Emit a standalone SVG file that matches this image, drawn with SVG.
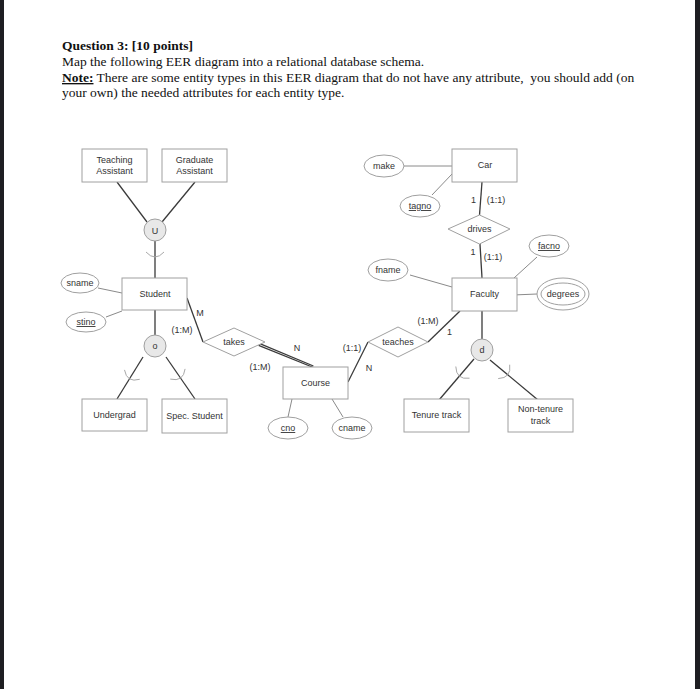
<svg xmlns="http://www.w3.org/2000/svg" width="700" height="689" viewBox="0 0 700 689">
<style>
.hd{font-family:"Liberation Serif","Times New Roman",serif;font-size:13.5px;fill:#111}
.t{font-family:"Liberation Sans",Arial,sans-serif;font-size:9px;fill:#333;text-anchor:middle}
.u{text-decoration:underline}
.box{fill:#fff;stroke:#a0a0a0;stroke-width:1}
.ell{fill:#fff;stroke:#a0a0a0;stroke-width:1}
.circ{fill:#e8e8e8;stroke:#a0a0a0;stroke-width:1}
.rel{stroke:#3a3a3a;stroke-width:1.3;fill:none}
.att{stroke:#8a8a8a;stroke-width:1;fill:none}
.arc{stroke:#a8a8a8;stroke-width:1;fill:none}
</style>
<rect x="0" y="0" width="700" height="689" fill="#fff"/>
<rect x="0" y="0" width="4" height="689" fill="#1e1e22"/>
<rect x="695" y="0" width="5" height="689" fill="#1e1e22"/>

<g id="header">
<text class="hd" x="62" y="50" font-weight="bold">Question 3: [10 points]</text>
<text class="hd" x="62" y="66">Map the following EER diagram into a relational database schema.</text>
<text class="hd" x="62" y="82"><tspan font-weight="bold" text-decoration="underline">Note:</tspan> There are some entity types in this EER diagram that do not have any attribute,&#160; you should add (on</text>
<text class="hd" x="62" y="97">your own) the needed attributes for each entity type.</text>
</g>

<g id="connectors">
<line class="rel" x1="117" y1="182" x2="147" y2="222"/>
<line class="rel" x1="195" y1="182" x2="162" y2="222"/>
<line class="rel" x1="155" y1="241" x2="155" y2="278"/>
<path class="arc" d="M146,252 Q155,262 164,252"/>
<line class="att" x1="98" y1="288" x2="122" y2="293"/>
<line class="att" x1="106" y1="317" x2="122" y2="311"/>
<line class="rel" x1="155" y1="310" x2="155" y2="335"/>
<line class="rel" x1="143" y1="357" x2="117" y2="399"/>
<line class="rel" x1="166" y1="357" x2="195" y2="399"/>
<path class="arc" d="M139.7,379.3 Q126.8,383.1 124.5,369.9"/>
<path class="arc" d="M185.1,368.9 Q183.4,382.2 170.3,379.1"/>
<line class="rel" x1="187" y1="298" x2="203" y2="342"/>
<line class="rel" x1="257.4" y1="342.6" x2="313.4" y2="366"/>
<line class="rel" x1="258.6" y1="345.4" x2="314.6" y2="368"/>
<line class="rel" x1="348" y1="382" x2="368" y2="342"/>
<line class="rel" x1="428" y1="342" x2="460" y2="311"/>
<line class="att" x1="292" y1="399" x2="288" y2="417"/>
<line class="att" x1="332" y1="399" x2="343" y2="417"/>
<line class="att" x1="404" y1="166" x2="452" y2="166"/>
<line class="att" x1="432" y1="195" x2="452" y2="174"/>
<line class="rel" x1="482" y1="182" x2="479.5" y2="215"/>
<line class="rel" x1="480" y1="244" x2="482" y2="278"/>
<line class="att" x1="537" y1="257" x2="514" y2="278"/>
<line class="att" x1="410" y1="275" x2="452" y2="287"/>
<line class="att" x1="513" y1="295" x2="537" y2="294"/>
<line class="rel" x1="482" y1="311" x2="482" y2="339"/>
<line class="rel" x1="474" y1="359" x2="439" y2="400"/>
<line class="rel" x1="490" y1="360" x2="538" y2="400"/>
<path class="arc" d="M469.5,378.2 Q456.1,380 455.8,366.5"/>
<path class="arc" d="M509.7,364.7 Q511.6,378 498.2,378.6"/>
</g>

<g id="teaching-assistant"><rect class="box" x="82" y="149" width="65" height="33"/><text class="t" x="114.5" y="163">Teaching</text><text class="t" x="114.5" y="174">Assistant</text></g>
<g id="graduate-assistant"><rect class="box" x="162" y="149" width="65" height="33"/><text class="t" x="194.5" y="163">Graduate</text><text class="t" x="194.5" y="174">Assistant</text></g>
<g id="union"><circle class="circ" cx="155" cy="230" r="11"/><text class="t" x="155" y="233.5">U</text></g>
<g id="student"><rect class="box" x="122" y="278" width="65" height="32"/><text class="t" x="155" y="297">Student</text></g>
<g id="sname"><ellipse class="ell" cx="80" cy="283" rx="19" ry="10"/><text class="t" x="80" y="286">sname</text></g>
<g id="stino"><ellipse class="ell" cx="86" cy="322" rx="20" ry="10"/><text class="t u" x="86" y="325">stino</text></g>
<g id="overlap"><circle class="circ" cx="155" cy="346" r="11"/><text class="t" x="155" y="349">o</text></g>
<g id="undergrad"><rect class="box" x="82" y="399" width="65" height="32"/><text class="t" x="114.5" y="418">Undergrad</text></g>
<g id="spec-student"><rect class="box" x="162" y="399" width="65" height="34"/><text class="t" x="194.5" y="419">Spec. Student</text></g>
<g id="takes"><polygon class="box" points="203,342 234,328 265,342 234,356"/><text class="t" x="234" y="345">takes</text></g>
<g id="course"><rect class="box" x="283" y="367" width="65" height="32"/><text class="t" x="315.5" y="386">Course</text></g>
<g id="cno"><ellipse class="ell" cx="288" cy="428" rx="20" ry="11"/><text class="t u" x="288" y="431">cno</text></g>
<g id="cname"><ellipse class="ell" cx="352" cy="428" rx="20" ry="11"/><text class="t" x="352" y="431">cname</text></g>
<g id="teaches"><polygon class="box" points="368,342 398,327 428,342 398,357"/><text class="t" x="398" y="345">teaches</text></g>
<g id="car"><rect class="box" x="452" y="149" width="65" height="33"/><text class="t" x="485" y="168">Car</text></g>
<g id="make"><ellipse class="ell" cx="384" cy="166" rx="20" ry="11"/><text class="t" x="384" y="169">make</text></g>
<g id="tagno"><ellipse class="ell" cx="420" cy="206" rx="20" ry="11"/><text class="t u" x="420" y="209">tagno</text></g>
<g id="drives"><polygon class="box" points="448,229 479.5,215 510,229 479.5,244"/><text class="t" x="479.5" y="232">drives</text></g>
<g id="facno"><ellipse class="ell" cx="549" cy="246" rx="20" ry="11"/><text class="t u" x="549" y="249">facno</text></g>
<g id="faculty"><rect class="box" x="452" y="278" width="65" height="33"/><text class="t" x="484.5" y="297">Faculty</text></g>
<g id="fname"><ellipse class="ell" cx="388" cy="270" rx="20" ry="11"/><text class="t" x="388" y="273">fname</text></g>
<g id="degrees"><ellipse class="ell" cx="563" cy="294" rx="26" ry="16"/><ellipse class="ell" cx="563" cy="294" rx="22" ry="11"/><text class="t" x="563" y="297">degrees</text></g>
<g id="disjoint"><circle class="circ" cx="482" cy="350" r="11"/><text class="t" x="482" y="353">d</text></g>
<g id="tenure-track"><rect class="box" x="404" y="399" width="65" height="33"/><text class="t" x="436.5" y="418">Tenure track</text></g>
<g id="non-tenure-track"><rect class="box" x="508" y="399" width="65" height="33"/><text class="t" x="540.5" y="412">Non-tenure</text><text class="t" x="540.5" y="424">track</text></g>

<g id="labels">
<text class="t" x="200" y="316">M</text>
<text class="t" x="182" y="333">(1:M)</text>
<text class="t" x="297" y="351">N</text>
<text class="t" x="260" y="370">(1:M)</text>
<text class="t" x="352" y="351">(1:1)</text>
<text class="t" x="369" y="371">N</text>
<text class="t" x="428" y="324">(1:M)</text>
<text class="t" x="449.5" y="335">1</text>
<text class="t" x="473.5" y="203">1</text>
<text class="t" x="496" y="203">(1:1)</text>
<text class="t" x="473" y="255">1</text>
<text class="t" x="493" y="260">(1:1)</text>
</g>
</svg>
